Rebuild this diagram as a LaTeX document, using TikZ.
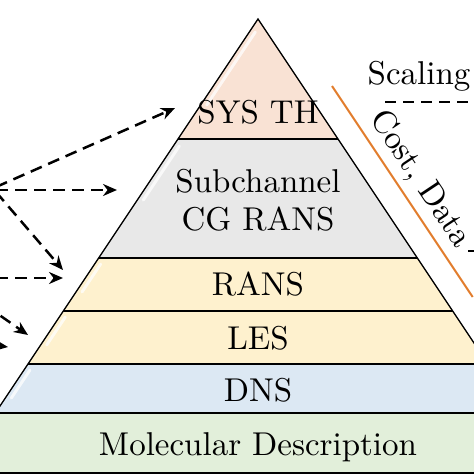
\documentclass[tikz,border=0pt]{standalone}
\usepackage{fontspec}
\setmainfont{lmroman10-regular.otf}
\usetikzlibrary{arrows.meta}
\definecolor{sysc}{RGB}{249,226,212}
\definecolor{subc}{RGB}{232,232,232}
\definecolor{ransc}{RGB}{254,241,206}
\definecolor{dnsc}{RGB}{220,232,243}
\definecolor{molc}{RGB}{226,239,218}
\definecolor{orangec}{RGB}{226,125,45}
\begin{document}
\begin{tikzpicture}[x=1pt,y=-1pt,
  lbl/.style={font=\fontsize{33}{39}\selectfont, inner sep=0pt, anchor=base},
  darrow/.style={line width=2.5pt, dash pattern=on 12pt off 7pt, -{Stealth[length=14pt,width=12pt]}},
  dline/.style={line width=2.5pt, dash pattern=on 11pt off 7pt},
  edgeline/.style={line width=1.3pt},
  gloss/.style={white, line width=3pt, opacity=0.75, line cap=round},
]
\useasboundingbox (0,0) rectangle (474,474);
\clip (0,0) rectangle (474,474);
\fill[white] (0,0) rectangle (474,474);
\coordinate (apex) at (258,19);
\coordinate (bl) at (-4.7,413);
\coordinate (br) at (520.7,413);
\begin{scope}
\clip (apex) -- (bl) -- (br) -- cycle;
\fill[sysc] (-10,0) rectangle (540,139);
\fill[subc] (-10,139) rectangle (540,258);
\fill[ransc] (-10,258) rectangle (540,364);
\fill[dnsc] (-10,364) rectangle (540,413);
\foreach \ya/\yb in {32/105,146/200,264/292,317/345,370/398}
  \draw[gloss] ({264-0.6667*(\ya-19)},\ya) -- ({264-0.6667*(\yb-19)},\yb);
\foreach \yy in {139,258,311,364} \draw[edgeline] (-10,\yy) -- (540,\yy);
\end{scope}
\draw[edgeline, line join=miter] (bl) -- (apex) -- (br);
\fill[molc] (-10,413) rectangle (540,472);
\draw[edgeline] (-10,413) -- (540,413);
\draw[line width=3pt] (-10,473) -- (540,473);

\node[lbl] (sys) at (258,123) {SYS TH};
\node[lbl] (sub1) at (258,192) {Subchannel};
\node[lbl] (sub2) at (258,230) {CG RANS};
\node[lbl] (rans) at (258,295) {RANS};
\node[lbl] (les) at (258,349) {LES};
\node[lbl] (dns) at (258,401) {DNS};
\node[lbl] (mol) at (258,455) {Molecular Description};
\node[lbl] (scal) at (419,84) {Scaling};
\node[lbl, rotate=-56.3, anchor=center] (cost) at (420,179) {Cost, Data};

\coordinate (o1) at (332,86);
\coordinate (o2) at (472.7,297);
\draw[orangec, line width=2pt] (o1) -- (o2);

\coordinate (sd1) at (385,102);
\coordinate (sd2) at (480,102);
\draw[dline] (sd1) -- (sd2);
\coordinate (cd1) at (468,251);
\coordinate (cd2) at (490,251);
\draw[dline] (cd1) -- (cd2);

\coordinate (s1) at (-4,187);
\coordinate (e1) at (175,108);
\coordinate (s2) at (-4,190);
\coordinate (e2) at (117,190);
\coordinate (s3) at (-4,192);
\coordinate (e3) at (63,270);
\coordinate (s4) at (-4,278);
\coordinate (e4) at (63,278);
\coordinate (s5) at (-15,305);
\coordinate (e5) at (28,335);
\coordinate (s6) at (-22,343);
\coordinate (e6) at (8,347);
\draw[darrow] (s1) -- (e1);
\draw[darrow] (s2) -- (e2);
\draw[darrow] (s3) -- (e3);
\draw[darrow] (s4) -- (e4);
\draw[darrow] (s5) -- (e5);
\draw[darrow] (s6) -- (e6);
\end{tikzpicture}
\end{document}
